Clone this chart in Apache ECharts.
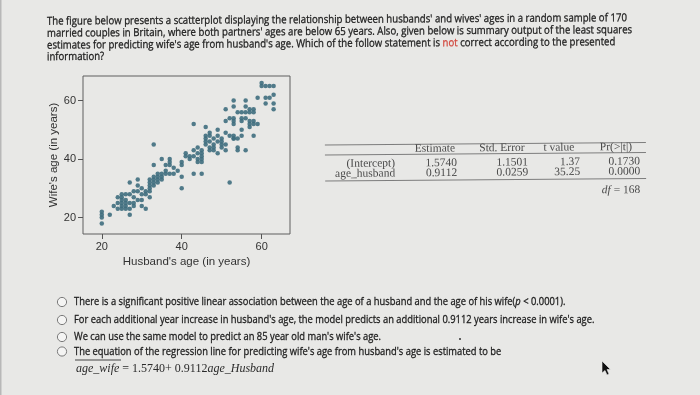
<!DOCTYPE html>
<html><head><meta charset="utf-8">
<script src="https://cdn.jsdelivr.net/npm/echarts@6/dist/echarts.min.js"></script>
<style>html,body{margin:0;padding:0;background:#e8e8e6}#c{width:700px;height:395px}</style>
</head><body><div id="c"></div>
<script>
// ---- data ----
const husbandAge = [
  20,20,20,20,22,23,24,24,24,25,25,25,25,25,25,26,26,26,26,27,27,27,27,27,28,28,28,29,29,29,29,30,30,30,31,31,31,
  32,32,32,32,32,32,33,33,33,33,33,33,34,34,34,34,35,35,35,35,36,36,37,37,37,37,38,38,40,40,40,40,
  41,41,42,42,43,43,43,43,44,44,44,45,45,45,45,45,45,
  46,46,46,46,46,47,47,47,47,47,48,48,48,48,49,49,49,49,50,50,50,50,51,51,51,52,51,51,52,52,53,53,
  53,53,53,53,53,53,54,54,54,54,55,55,55,55,55,56,56,56,56,56,57,57,57,57,57,58,58,58,58,58,59,60,60,61,61,62,62,63,63,63,63,61,59,
  44,36,39,30,28,26
];
const wifeAge = [
  22,21,20,18,21,24,23,27,25,24,25,26,27,28,23,24,25,26,23,32,28,25,23,21,27,25,24,29,33,31,26,28,24,30,23,28,29,
  30,31,32,33,29,27,31,32,33,34,45,38,32,33,34,35,35,40,33,34,35,38,35,39,38,40,35,37,34,30,39,38,
  41,42,40,41,43,41,52,35,42,40,39,41,40,39,35,43,42,
  51,47,48,45,46,44,46,48,49,43,45,47,43,44,46,48,50,42,44,45,46,47,43,45,49,32,57,53,54,48,48,47,
  60,58,54,53,52,47,47,56,44,43,56,54,53,50,48,56,60,58,54,43,53,52,51,56,57,53,56,57,48,52,61,65,66,65,59,65,61,65,62,59,57,61,52,
  44,36,36,26,29,28
];
const xTicks = [20, 40, 60];
const yTicks = [20, 40, 60];
const xTitle = "Husband's age (in years)";
const yTitle = "Wife's age (in years)";

const introLines = [
  "The figure below presents a scatterplot displaying the relationship between husbands' and wives' ages in a random sample of 170",
  "married couples in Britain, where both partners' ages are below 65 years. Also, given below is summary output of the least squares",
  "estimates for predicting wife's age from husband's age. Which of the follow statement is {r|not} correct according to the presented",
  "information?"
];
const tableHeader = ["Estimate", "Std. Error", "t value", "Pr(>|t|)"];
const tableRows = ["(Intercept)", "age_husband"];
const estimates = ["1.5740", "0.9112"];
const stdErrors = ["1.1501", "0.0259"];
const tValues = ["1.37", "35.25"];
const pValues = ["0.1730", "0.0000"];
const dfText = "{i|df} = 168";
const choices = [
  "There is a significant positive linear association between the age of a husband and the age of his wife({i|p} < 0.0001).",
  "For each additional year increase in husband's age, the model predicts an additional 0.9112 years increase in wife's age.",
  "We can use the same model to predict an 85 year old man's wife's age.",
  "The equation of the regression line for predicting wife's age from husband's age is estimated to be"
];
const equation = "{i|age_wife} = 1.5740+ 0.9112{i|age_Husband}";

// ---- helpers ----
const mctx = document.createElement('canvas').getContext('2d');
function measure(t, font) { mctx.font = font; return mctx.measureText(t.replace(/\{\w+\|([^}]*)\}/g, '$1')).width; }
function txt(x, y, text, font, fill, opts) {
  opts = opts || {};
  const style = {
    text: text, font: font, fill: fill,
    align: opts.align || 'left', textAlign: opts.align || 'left',
    verticalAlign: 'middle', textVerticalAlign: 'middle',
    rich: opts.rich
  };
  if (opts.bold) { style.stroke = fill; style.lineWidth = opts.bold; }
  return {
    type: 'text', x: x, y: y, rotation: opts.rotation || 0, scaleX: opts.scaleX || 1,
    silent: true, style: style
  };
}

const ink = '#1c1c1c';
const paraFont = "11px 'Open Sans'";
const paraScale = (581 / measure(introLines[0], paraFont) + 584 / measure(introLines[1], paraFont)) / 2;
const choiceFont = "11px 'Open Sans'";
const choiceScale = 0.985 * (509 / measure(choices[0], choiceFont) + 518 / measure(choices[1], choiceFont)) / 2;
const serif = "'Liberation Serif'";
const tabFont = "11.5px " + serif;
const tabColor = '#4a4a4a';

const graphics = [];
graphics.push({type: 'rect', shape: {x: 0, y: 0, width: 1.5, height: 395}, style: {fill: '#b8b8b8'}, silent: true});

// intro paragraph
const paraY = [21.5, 33.5, 45.5, 57];
introLines.forEach((l, i) => {
  graphics.push(txt(47, paraY[i], l, paraFont, ink, {
    scaleX: paraScale, rotation: 0.006, bold: 0.3,
    rich: {r: {fill: '#d2473d', stroke: '#d2473d', lineWidth: 0.3, font: paraFont}}
  }));
});

// regression table (slightly tilted as in the photo)
const tab = [];
const L = 325, R = 646;
[145, 155, 181].forEach(y => tab.push({type: 'line', shape: {x1: L, y1: y, x2: R, y2: y}, style: {stroke: '#7d7d7d', lineWidth: 1}}));
const headCenters = [435, 502, 559, 616];
tableHeader.forEach((h, i) => tab.push(txt(headCenters[i], 149.5, h, tabFont, tabColor, {align: 'center'})));
const rowY = [164, 174];
const colRight = [457, 528, 580, 640];
tableRows.forEach((r, i) => {
  tab.push(txt(395, rowY[i], r, tabFont, tabColor, {align: 'right'}));
  [estimates, stdErrors, tValues, pValues].forEach((col, j) => {
    tab.push(txt(colRight[j], rowY[i], col[i], tabFont, tabColor, {align: 'right'}));
  });
});
tab.push(txt(640, 192.5, dfText, tabFont, tabColor, {align: 'right', rich: {i: {font: 'italic ' + tabFont, fill: tabColor}}}));
graphics.push({type: 'group', originX: 325, originY: 160, rotation: 0.008, children: tab});

// answer choices
const choiceY = [302, 320, 337, 351.5];
choices.forEach((c, i) => {
  graphics.push({type: 'circle', shape: {cx: 62, cy: choiceY[i], r: 4.6}, style: {fill: '#f4f4f3', stroke: '#7a7a7a', lineWidth: 1}, silent: true});
  graphics.push(txt(74, choiceY[i], c, choiceFont, ink, {
    scaleX: choiceScale, bold: 0.3,
    rich: {i: {font: 'italic ' + choiceFont, fill: ink, stroke: ink, lineWidth: 0.3}}
  }));
});
graphics.push(txt(76, 369, equation, "12px " + serif, '#2a2a2a', {rich: {i: {font: "italic 12px " + serif, fill: '#2a2a2a'}}}));
graphics.push({type: 'line', shape: {x1: 75, y1: 360, x2: 121, y2: 360}, style: {stroke: '#444', lineWidth: 1}, silent: true});
graphics.push({type: 'circle', shape: {cx: 460, cy: 339, r: 1}, style: {fill: '#333'}, silent: true});
graphics.push({type: 'polygon', shape: {points: [[602, 361], [602, 373], [605, 370.5], [607, 375], [609, 374], [607, 369.5], [610.5, 369.5]]}, style: {fill: '#111', stroke: '#eee', lineWidth: 0.6}, silent: true});

const chart = echarts.init(document.getElementById('c'), null, {renderer: 'canvas', width: 700, height: 395});
chart.setOption({
  backgroundColor: '#e8e8e6',
  animation: false,
  textStyle: {fontFamily: "'Liberation Sans'"},
  grid: {left: 83, right: 410, top: 76, bottom: 161, show: true, borderColor: '#5e5e5e', borderWidth: 1, backgroundColor: 'transparent'},
  xAxis: {
    type: 'value', min: 15.3, max: 67.1,
    name: xTitle, nameLocation: 'middle', nameGap: 22,
    nameTextStyle: {fontSize: 11.5, color: '#333', fontFamily: "'Liberation Sans'"},
    axisLine: {show: false},
    axisTick: {show: true, length: 5, customValues: xTicks, lineStyle: {color: '#555'}},
    axisLabel: {customValues: xTicks, margin: 7, fontSize: 11, color: '#333', fontFamily: "'Liberation Sans'"},
    splitLine: {show: false}
  },
  yAxis: {
    type: 'value', min: 14.4, max: 68.4,
    name: yTitle, nameLocation: 'middle', nameGap: 18,
    nameTextStyle: {fontSize: 11.5, color: '#333', fontFamily: "'Liberation Sans'"},
    axisLine: {show: false},
    axisTick: {show: true, length: 5, customValues: yTicks, lineStyle: {color: '#555'}},
    axisLabel: {customValues: yTicks, margin: 7, fontSize: 11, color: '#333', fontFamily: "'Liberation Sans'"},
    splitLine: {show: false}
  },
  series: [{
    type: 'scatter',
    data: husbandAge.map((h, i) => [h, wifeAge[i]]),
    symbolSize: 4.5,
    itemStyle: {color: '#3f6e7e', opacity: 0.9}
  }],
  graphic: graphics
});
</script>
</body></html>
